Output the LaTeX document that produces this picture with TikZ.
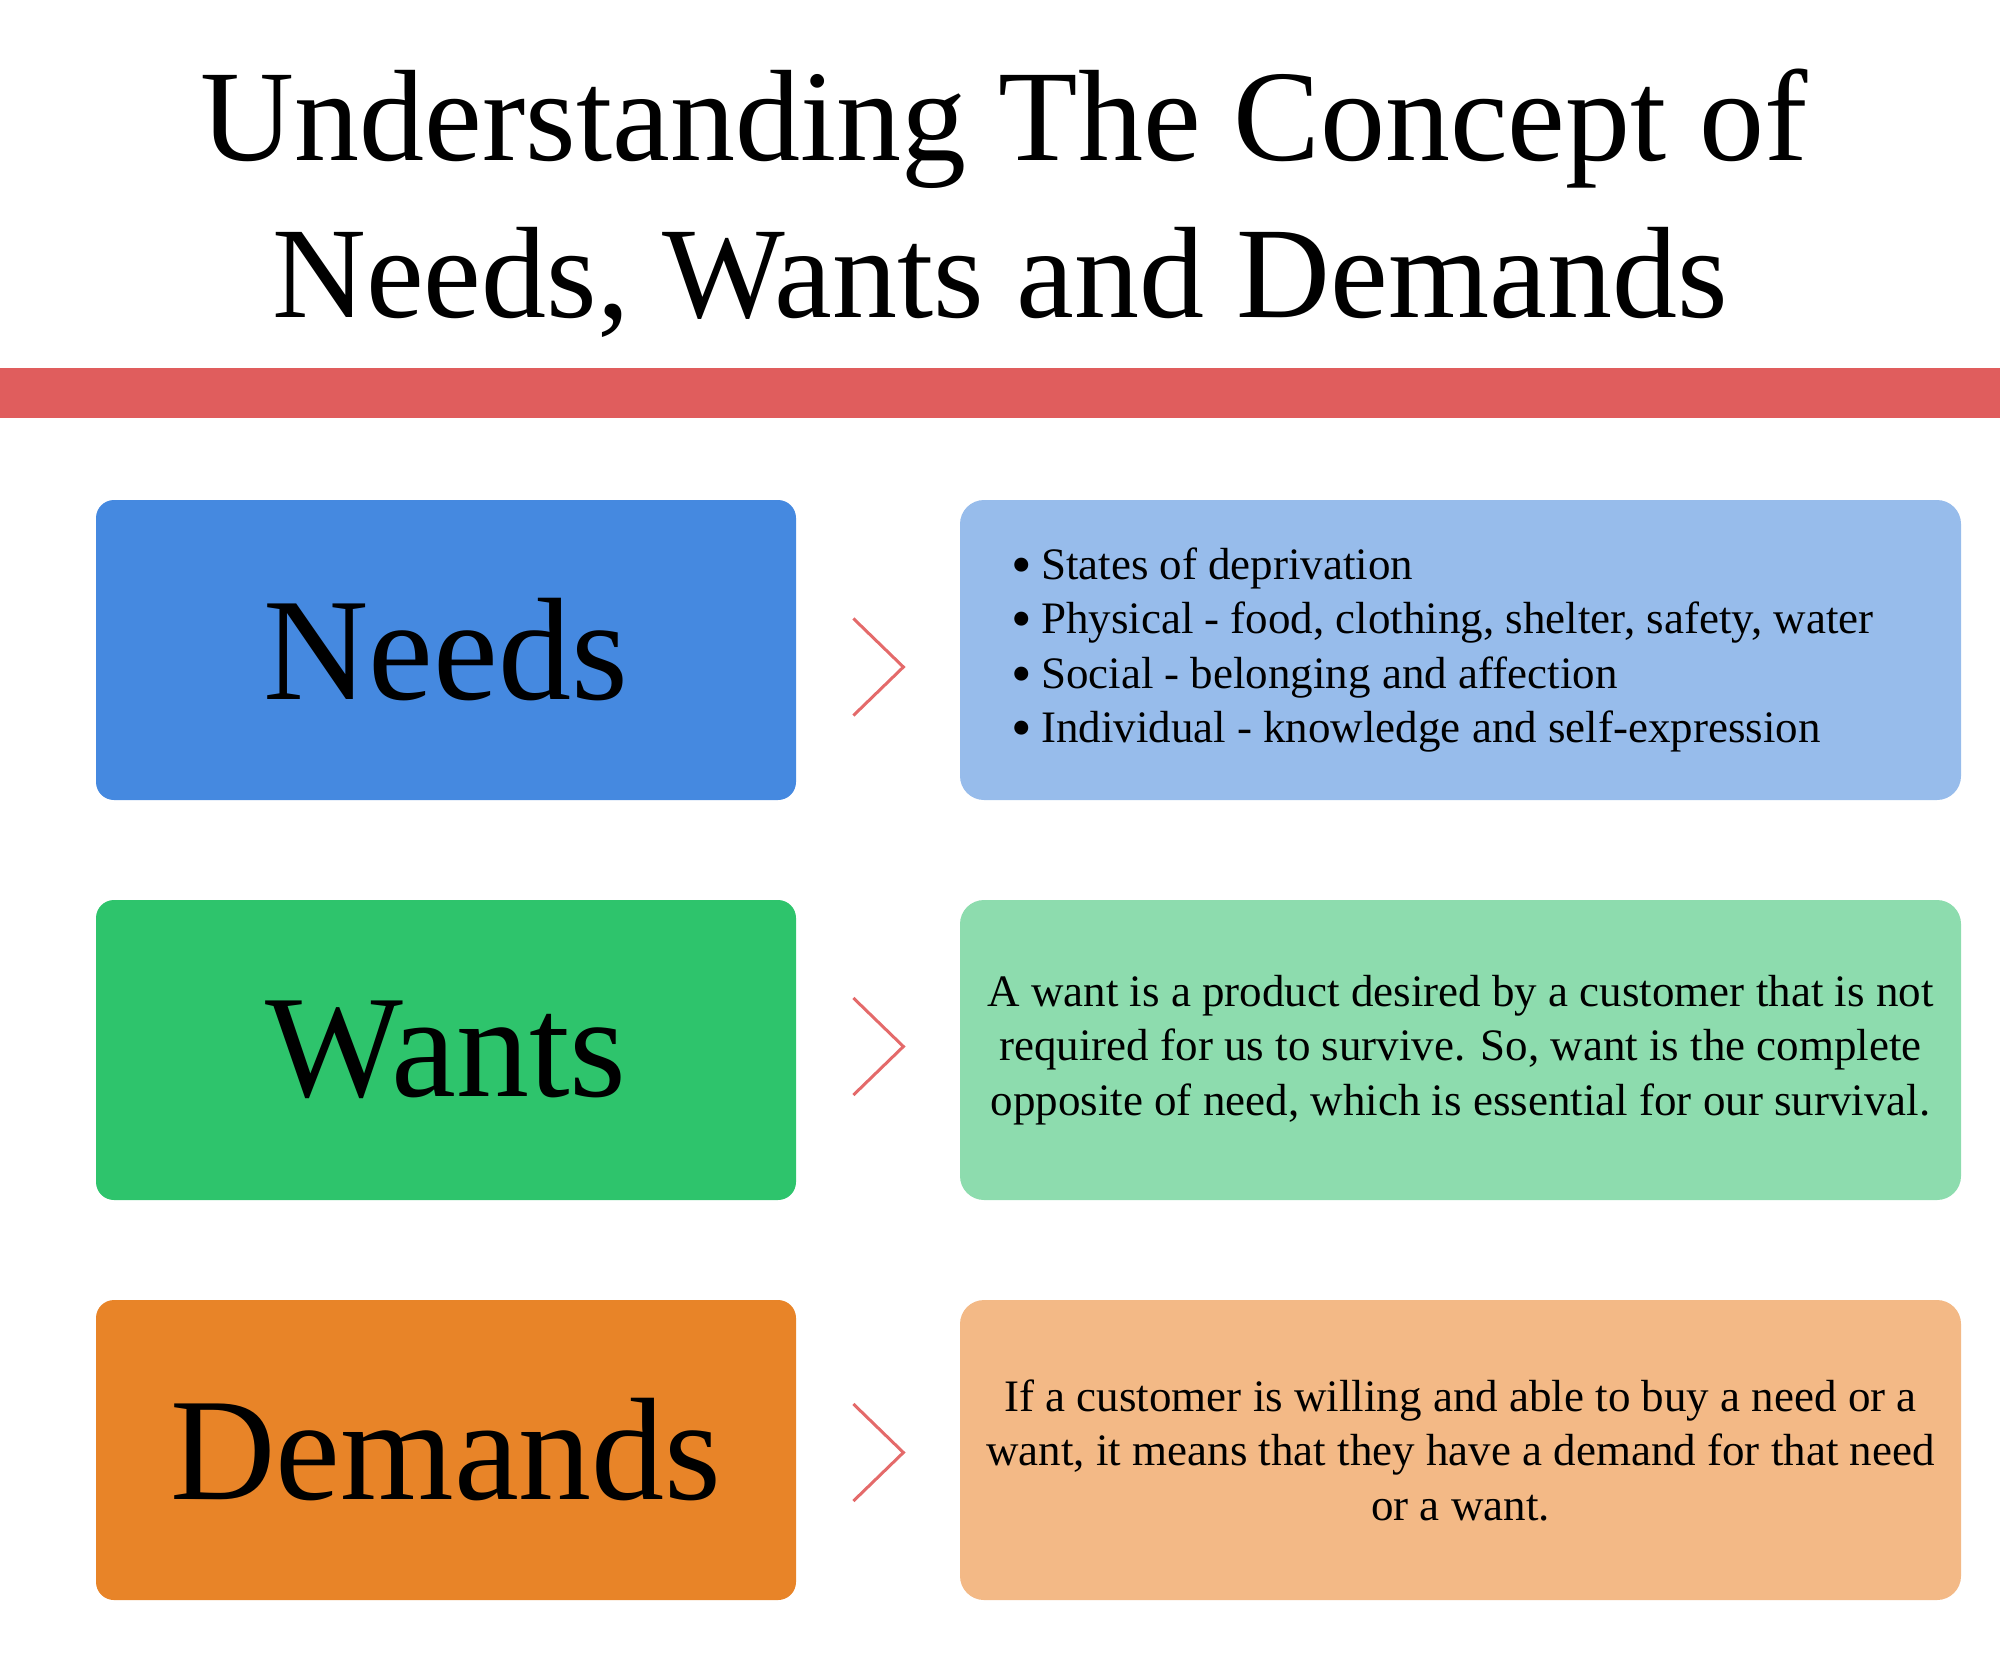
\documentclass[tikz,border=0pt]{standalone}
\usepackage{fontspec}
\setmainfont{Liberation Serif}
\usepackage{tikz}
\usetikzlibrary{shapes,arrows,positioning}
\definecolor{needsdark}{HTML}{4589E0}
\definecolor{needslight}{HTML}{97BCEB}
\definecolor{wantsdark}{HTML}{2EC46C}
\definecolor{wantslight}{HTML}{8DDCAE}
\definecolor{demandsdark}{HTML}{E88428}
\definecolor{demandslight}{HTML}{F3B986}
\definecolor{barred}{HTML}{E05D5D}
\definecolor{chevred}{HTML}{E46A6A}
\tikzstyle{title} = [anchor=base, inner sep=0pt,
    font=\fontsize{65}{78.5}\selectfont]
\tikzstyle{term} = [rectangle, rounded corners=9pt, inner sep=0pt,
    minimum width=350pt, minimum height=150pt,
    font=\fontsize{73}{80}\selectfont]
\tikzstyle{info} = [rectangle, rounded corners=12pt, inner sep=0pt,
    minimum width=500.5pt, minimum height=150pt,
    font=\fontsize{22.5}{27.25}\selectfont]
\tikzstyle{chevron} = [draw=chevred, line width=1.5pt]
\newcommand{\itm}[1]{\makebox[15pt][l]{\raisebox{-2.4pt}{\scalebox{1.3}{\textbullet}}}#1}

\begin{document}
\begin{tikzpicture}[node distance = 200pt]
\useasboundingbox (0,0) rectangle (1000pt,-838pt);
    % Title and bar
\node[title] (title) at (502pt,-80pt) {Understanding The Concept of};
\node[title] (subtitle) at (500pt,-158.5pt) {Needs, Wants and Demands};
\fill[barred] (0,-184pt) rectangle (1000pt,-209pt);

    % Place nodes
\node[term, fill=needsdark] (needs) at (223pt,-325pt) {Needs};
\node[term, fill=wantsdark, below of=needs] (wants) {Wants};
\node[term, fill=demandsdark, below of=wants] (demands) {Demands};
\node[info, fill=needslight, right of=needs, node distance=507.25pt,
  text width=449.5pt, align=flush left] (needsinfo)
{\itm{States of deprivation}\\
 \itm{Physical - food, clothing, shelter, safety, water}\\
 \itm{Social - belonging and affection}\\
 \itm{Individual - knowledge and self-expression}};
\node[info, fill=wantslight, right of=wants, node distance=507.25pt,
  align=center] (wantsinfo)
{A want is a product desired by a customer that is not\\
 required for us to survive. So, want is the complete\\
 opposite of need, which is essential for our survival.};
\node[info, fill=demandslight, right of=demands, node distance=507.25pt,
  align=center] (demandsinfo)
{If a customer is willing and able to buy a need or a\\
 want, it means that they have a demand for that need\\
 or a want.};

    % Draw chevrons
\draw[chevron] (needs.east) ++(28.5pt,15.75pt) -- ++(25pt,-24.25pt) -- ++(-25pt,-24.25pt);
\draw[chevron] (wants.east) ++(28.5pt,26pt) -- ++(25pt,-24.25pt) -- ++(-25pt,-24.25pt);
\draw[chevron] (demands.east) ++(28.5pt,23pt) -- ++(25pt,-24.25pt) -- ++(-25pt,-24.25pt);

\end{tikzpicture}
\end{document}
